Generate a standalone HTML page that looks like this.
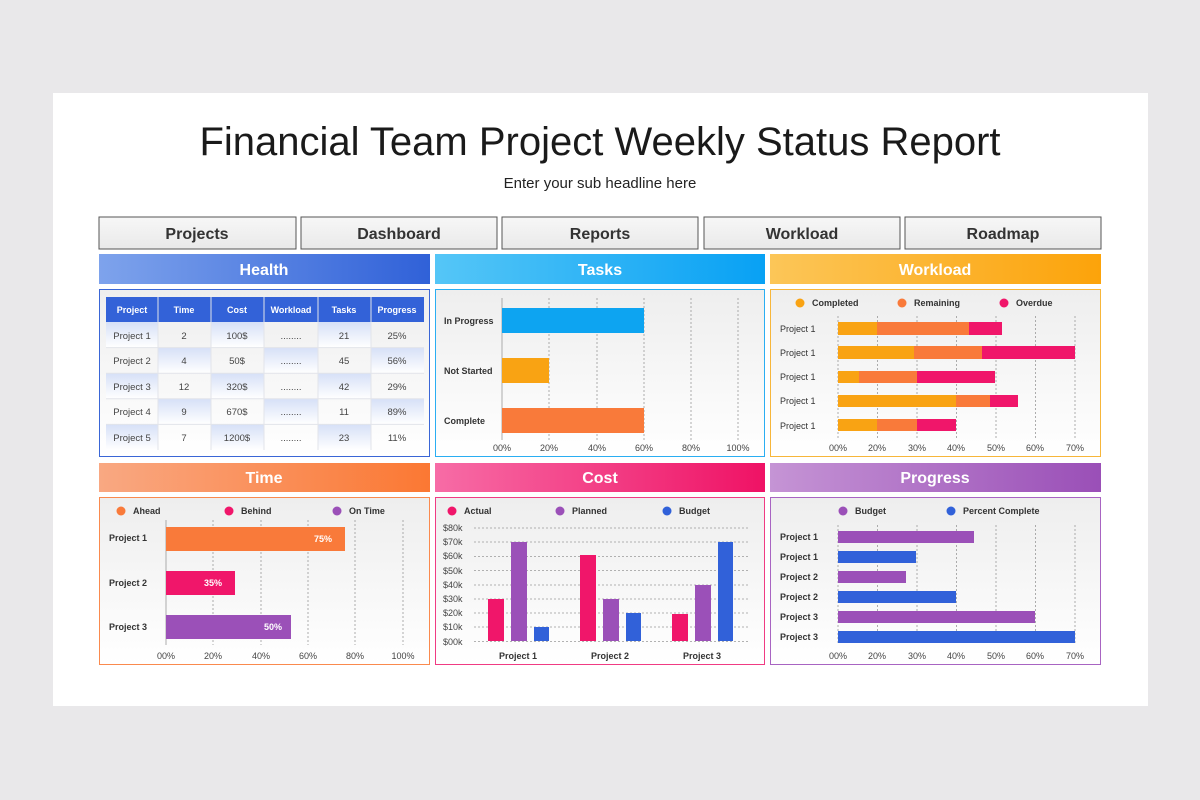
<!DOCTYPE html>
<html><head><meta charset="utf-8"><style>
html,body{margin:0;padding:0;background:#e9e8ea;}
svg{display:block;font-family:"Liberation Sans",sans-serif;}
</style></head><body>
<svg width="1200" height="800" viewBox="0 0 1200 800" xmlns="http://www.w3.org/2000/svg">
<defs>
<linearGradient id="gH" x1="0" x2="1"><stop offset="0" stop-color="#7ea3ec"/><stop offset="1" stop-color="#3061d8"/></linearGradient>
<linearGradient id="gT" x1="0" x2="1"><stop offset="0" stop-color="#55c6f7"/><stop offset="1" stop-color="#08a1f4"/></linearGradient>
<linearGradient id="gW" x1="0" x2="1"><stop offset="0" stop-color="#fcc658"/><stop offset="1" stop-color="#fca30a"/></linearGradient>
<linearGradient id="gTi" x1="0" x2="1"><stop offset="0" stop-color="#f9a882"/><stop offset="1" stop-color="#fb7833"/></linearGradient>
<linearGradient id="gC" x1="0" x2="1"><stop offset="0" stop-color="#f76ca6"/><stop offset="1" stop-color="#ef1265"/></linearGradient>
<linearGradient id="gP" x1="0" x2="1"><stop offset="0" stop-color="#c594d5"/><stop offset="1" stop-color="#9a4fb7"/></linearGradient>
<linearGradient id="gB" x1="0" y1="0" x2="0" y2="1"><stop offset="0" stop-color="#eeeeee"/><stop offset="1" stop-color="#ffffff"/></linearGradient>
<linearGradient id="gTab" x1="0" y1="0" x2="0" y2="1"><stop offset="0" stop-color="#f7f7f7"/><stop offset="1" stop-color="#e9e9e9"/></linearGradient>
<linearGradient id="gRow" x1="0" y1="0" x2="0" y2="1"><stop offset="0" stop-color="#d6e0f7"/><stop offset="1" stop-color="#ffffff"/></linearGradient>
</defs>
<rect x="53" y="93" width="1095" height="613" fill="#fff"/>
<text x="600" y="155" font-size="40" text-anchor="middle" fill="#1a1a1a">Financial Team Project Weekly Status Report</text>
<text x="600" y="188" font-size="15" text-anchor="middle" fill="#222">Enter your sub headline here</text>

<g font-size="16" font-weight="bold" fill="#333" text-anchor="middle">
<rect x="99" y="217" width="197" height="32" fill="url(#gTab)" stroke="#555" stroke-width="1"/><text x="197" y="239">Projects</text>
<rect x="301" y="217" width="196" height="32" fill="url(#gTab)" stroke="#555" stroke-width="1"/><text x="399" y="239">Dashboard</text>
<rect x="502" y="217" width="196" height="32" fill="url(#gTab)" stroke="#555" stroke-width="1"/><text x="600" y="239">Reports</text>
<rect x="704" y="217" width="196" height="32" fill="url(#gTab)" stroke="#555" stroke-width="1"/><text x="802" y="239">Workload</text>
<rect x="905" y="217" width="196" height="32" fill="url(#gTab)" stroke="#555" stroke-width="1"/><text x="1003" y="239">Roadmap</text>
</g>

<g font-size="16" font-weight="bold" fill="#fff" text-anchor="middle">
<rect x="99" y="254" width="331" height="30" fill="url(#gH)"/><text x="264" y="275">Health</text>
<rect x="435" y="254" width="330" height="30" fill="url(#gT)"/><text x="600" y="275">Tasks</text>
<rect x="770" y="254" width="331" height="30" fill="url(#gW)"/><text x="935" y="275">Workload</text>
<rect x="99" y="463" width="331" height="29" fill="url(#gTi)"/><text x="264" y="483">Time</text>
<rect x="435" y="463" width="330" height="29" fill="url(#gC)"/><text x="600" y="483">Cost</text>
<rect x="770" y="463" width="331" height="29" fill="url(#gP)"/><text x="935" y="483">Progress</text>
</g>

<rect x="99.5" y="289.5" width="330" height="167" fill="url(#gB)" stroke="#3a66d6"/>
<rect x="435.5" y="289.5" width="329" height="167" fill="url(#gB)" stroke="#2aaef2"/>
<rect x="770.5" y="289.5" width="330" height="167" fill="url(#gB)" stroke="#f7b63a"/>
<rect x="99.5" y="497.5" width="330" height="167" fill="url(#gB)" stroke="#fa8a4e"/>
<rect x="435.5" y="497.5" width="329" height="167" fill="url(#gB)" stroke="#f03b83"/>
<rect x="770.5" y="497.5" width="330" height="167" fill="url(#gB)" stroke="#a864c2"/>

<!-- Health table -->
<rect x="106" y="297" width="318" height="25" fill="#3362d8"/>
<g font-size="9" font-weight="bold" fill="#fff" text-anchor="middle">
<text x="132" y="313">Project</text><text x="184" y="313">Time</text><text x="237" y="313">Cost</text><text x="291" y="313">Workload</text><text x="344" y="313">Tasks</text><text x="397" y="313">Progress</text>
</g>
<g fill="url(#gRow)">
<rect x="106" y="322" width="52" height="25.6"/><rect x="211" y="322" width="53" height="25.6"/><rect x="318" y="322" width="53" height="25.6"/>
<rect x="158" y="347.6" width="53" height="25.6"/><rect x="264" y="347.6" width="54" height="25.6"/><rect x="371" y="347.6" width="53" height="25.6"/>
<rect x="106" y="373.2" width="52" height="25.6"/><rect x="211" y="373.2" width="53" height="25.6"/><rect x="318" y="373.2" width="53" height="25.6"/>
<rect x="158" y="398.8" width="53" height="25.6"/><rect x="264" y="398.8" width="54" height="25.6"/><rect x="371" y="398.8" width="53" height="25.6"/>
<rect x="106" y="424.4" width="52" height="25.6"/><rect x="211" y="424.4" width="53" height="25.6"/><rect x="318" y="424.4" width="53" height="25.6"/>
</g>
<g stroke="#e2e4ea" stroke-width="1">
<line x1="158" y1="297" x2="158" y2="450"/><line x1="211" y1="297" x2="211" y2="450"/><line x1="264" y1="297" x2="264" y2="450"/><line x1="318" y1="297" x2="318" y2="450"/><line x1="371" y1="297" x2="371" y2="450"/>
<line x1="106" y1="347.6" x2="424" y2="347.6"/><line x1="106" y1="373.2" x2="424" y2="373.2"/><line x1="106" y1="398.8" x2="424" y2="398.8"/><line x1="106" y1="424.4" x2="424" y2="424.4"/>
</g>
<g font-size="9.5" fill="#444" text-anchor="middle">
<text x="132" y="339">Project 1</text><text x="184" y="339">2</text><text x="237" y="339">100$</text><text x="291" y="339">........</text><text x="344" y="339">21</text><text x="397" y="339">25%</text>
<text x="132" y="364">Project 2</text><text x="184" y="364">4</text><text x="237" y="364">50$</text><text x="291" y="364">........</text><text x="344" y="364">45</text><text x="397" y="364">56%</text>
<text x="132" y="390">Project 3</text><text x="184" y="390">12</text><text x="237" y="390">320$</text><text x="291" y="390">........</text><text x="344" y="390">42</text><text x="397" y="390">29%</text>
<text x="132" y="415">Project 4</text><text x="184" y="415">9</text><text x="237" y="415">670$</text><text x="291" y="415">........</text><text x="344" y="415">11</text><text x="397" y="415">89%</text>
<text x="132" y="441">Project 5</text><text x="184" y="441">7</text><text x="237" y="441">1200$</text><text x="291" y="441">........</text><text x="344" y="441">23</text><text x="397" y="441">11%</text>
</g>

<!-- Tasks -->
<g stroke="#999" stroke-dasharray="2,2" stroke-width="0.8">
<line x1="549" y1="298" x2="549" y2="440"/><line x1="597" y1="298" x2="597" y2="440"/><line x1="644" y1="298" x2="644" y2="440"/><line x1="691" y1="298" x2="691" y2="440"/><line x1="738" y1="298" x2="738" y2="440"/>
</g>
<line x1="502" y1="298" x2="502" y2="440" stroke="#999" stroke-width="0.8"/>
<rect x="502" y="308" width="142" height="25" fill="#0da4f1"/>
<rect x="502" y="358" width="47" height="25" fill="#f9a313"/>
<rect x="502" y="408" width="142" height="25" fill="#f97a3a"/>
<g font-size="9" font-weight="bold" fill="#333"><text x="444" y="324">In Progress</text><text x="444" y="374">Not Started</text><text x="444" y="424">Complete</text></g>
<g font-size="9" fill="#444" text-anchor="middle"><text x="502" y="451">00%</text><text x="549" y="451">20%</text><text x="597" y="451">40%</text><text x="644" y="451">60%</text><text x="691" y="451">80%</text><text x="738" y="451">100%</text></g>

<!-- Workload -->
<g font-size="9" font-weight="bold" fill="#333">
<circle cx="800" cy="303" r="4.5" fill="#f9a313"/><text x="812" y="306">Completed</text>
<circle cx="902" cy="303" r="4.5" fill="#f97a3a"/><text x="914" y="306">Remaining</text>
<circle cx="1004" cy="303" r="4.5" fill="#f0166a"/><text x="1016" y="306">Overdue</text>
</g>
<g stroke="#999" stroke-dasharray="2,2" stroke-width="0.8">
<line x1="838" y1="316" x2="838" y2="440"/><line x1="877.5" y1="316" x2="877.5" y2="440"/><line x1="917" y1="316" x2="917" y2="440"/><line x1="956.5" y1="316" x2="956.5" y2="440"/><line x1="996" y1="316" x2="996" y2="440"/><line x1="1035.5" y1="316" x2="1035.5" y2="440"/><line x1="1075" y1="316" x2="1075" y2="440"/>
</g>
<g>
<rect x="838" y="322" width="39" height="13" fill="#f9a313"/><rect x="877" y="322" width="92" height="13" fill="#f97a3a"/><rect x="969" y="322" width="33" height="13" fill="#f0166a"/>
<rect x="838" y="346" width="76" height="13" fill="#f9a313"/><rect x="914" y="346" width="68" height="13" fill="#f97a3a"/><rect x="982" y="346" width="93" height="13" fill="#f0166a"/>
<rect x="838" y="371" width="21" height="12" fill="#f9a313"/><rect x="859" y="371" width="58" height="12" fill="#f97a3a"/><rect x="917" y="371" width="78" height="12" fill="#f0166a"/>
<rect x="838" y="395" width="118" height="12" fill="#f9a313"/><rect x="956" y="395" width="34" height="12" fill="#f97a3a"/><rect x="990" y="395" width="28" height="12" fill="#f0166a"/>
<rect x="838" y="419" width="39" height="12" fill="#f9a313"/><rect x="877" y="419" width="40" height="12" fill="#f97a3a"/><rect x="917" y="419" width="39" height="12" fill="#f0166a"/>
</g>
<g font-size="9" fill="#333"><text x="780" y="332">Project 1</text><text x="780" y="356">Project 1</text><text x="780" y="380">Project 1</text><text x="780" y="404">Project 1</text><text x="780" y="429">Project 1</text></g>
<g font-size="9" fill="#444" text-anchor="middle"><text x="838" y="451">00%</text><text x="877" y="451">20%</text><text x="917" y="451">30%</text><text x="956" y="451">40%</text><text x="996" y="451">50%</text><text x="1035" y="451">60%</text><text x="1075" y="451">70%</text></g>

<!-- Time -->
<g font-size="9" font-weight="bold" fill="#333">
<circle cx="121" cy="511" r="4.5" fill="#f97a3a"/><text x="133" y="514">Ahead</text>
<circle cx="229" cy="511" r="4.5" fill="#f0166a"/><text x="241" y="514">Behind</text>
<circle cx="337" cy="511" r="4.5" fill="#9b50b8"/><text x="349" y="514">On Time</text>
</g>
<g stroke="#999" stroke-dasharray="2,2" stroke-width="0.8">
<line x1="213" y1="520" x2="213" y2="645"/><line x1="261" y1="520" x2="261" y2="645"/><line x1="308" y1="520" x2="308" y2="645"/><line x1="355" y1="520" x2="355" y2="645"/><line x1="403" y1="520" x2="403" y2="645"/>
</g>
<line x1="166" y1="520" x2="166" y2="645" stroke="#999" stroke-width="0.8"/>
<rect x="166" y="527" width="179" height="24" fill="#f97a3a"/>
<rect x="166" y="571" width="69" height="24" fill="#f0166a"/>
<rect x="166" y="615" width="125" height="24" fill="#9b50b8"/>
<g font-size="9" font-weight="bold" fill="#fff" text-anchor="middle"><text x="323" y="542">75%</text><text x="213" y="586">35%</text><text x="273" y="630">50%</text></g>
<g font-size="9" font-weight="bold" fill="#333"><text x="109" y="541">Project 1</text><text x="109" y="586">Project 2</text><text x="109" y="630">Project 3</text></g>
<g font-size="9" fill="#444" text-anchor="middle"><text x="166" y="659">00%</text><text x="213" y="659">20%</text><text x="261" y="659">40%</text><text x="308" y="659">60%</text><text x="355" y="659">80%</text><text x="403" y="659">100%</text></g>

<!-- Cost -->
<g font-size="9" font-weight="bold" fill="#333">
<circle cx="452" cy="511" r="4.5" fill="#f0166a"/><text x="464" y="514">Actual</text>
<circle cx="560" cy="511" r="4.5" fill="#9b50b8"/><text x="572" y="514">Planned</text>
<circle cx="667" cy="511" r="4.5" fill="#3161d9"/><text x="679" y="514">Budget</text>
</g>
<g stroke="#999" stroke-dasharray="2,2" stroke-width="0.8">
<line x1="474" y1="528" x2="748" y2="528"/><line x1="474" y1="542" x2="748" y2="542"/><line x1="474" y1="556.5" x2="748" y2="556.5"/><line x1="474" y1="570.5" x2="748" y2="570.5"/><line x1="474" y1="585" x2="748" y2="585"/><line x1="474" y1="599" x2="748" y2="599"/><line x1="474" y1="613" x2="748" y2="613"/><line x1="474" y1="627" x2="748" y2="627"/><line x1="474" y1="641.5" x2="748" y2="641.5"/>
</g>
<g font-size="9" fill="#444"><text x="443" y="531">$80k</text><text x="443" y="545">$70k</text><text x="443" y="559">$60k</text><text x="443" y="574">$50k</text><text x="443" y="588">$40k</text><text x="443" y="602">$30k</text><text x="443" y="616">$20k</text><text x="443" y="630">$10k</text><text x="443" y="645">$00k</text></g>
<rect x="488" y="599" width="16" height="42" fill="#f0166a"/><rect x="511" y="542" width="16" height="99" fill="#9b50b8"/><rect x="534" y="627" width="15" height="14" fill="#3161d9"/>
<rect x="580" y="555" width="16" height="86" fill="#f0166a"/><rect x="603" y="599" width="16" height="42" fill="#9b50b8"/><rect x="626" y="613" width="15" height="28" fill="#3161d9"/>
<rect x="672" y="614" width="16" height="27" fill="#f0166a"/><rect x="695" y="585" width="16" height="56" fill="#9b50b8"/><rect x="718" y="542" width="15" height="99" fill="#3161d9"/>
<g font-size="9" font-weight="bold" fill="#333" text-anchor="middle"><text x="518" y="659">Project 1</text><text x="610" y="659">Project 2</text><text x="702" y="659">Project 3</text></g>

<!-- Progress -->
<g font-size="9" font-weight="bold" fill="#333">
<circle cx="843" cy="511" r="4.5" fill="#9b50b8"/><text x="855" y="514">Budget</text>
<circle cx="951" cy="511" r="4.5" fill="#3161d9"/><text x="963" y="514">Percent Complete</text>
</g>
<g stroke="#999" stroke-dasharray="2,2" stroke-width="0.8">
<line x1="838" y1="525" x2="838" y2="645"/><line x1="877.5" y1="525" x2="877.5" y2="645"/><line x1="917" y1="525" x2="917" y2="645"/><line x1="956.5" y1="525" x2="956.5" y2="645"/><line x1="996" y1="525" x2="996" y2="645"/><line x1="1035.5" y1="525" x2="1035.5" y2="645"/><line x1="1075" y1="525" x2="1075" y2="645"/>
</g>
<rect x="838" y="531" width="136" height="12" fill="#9b50b8"/>
<rect x="838" y="551" width="78" height="12" fill="#3161d9"/>
<rect x="838" y="571" width="68" height="12" fill="#9b50b8"/>
<rect x="838" y="591" width="118" height="12" fill="#3161d9"/>
<rect x="838" y="611" width="197" height="12" fill="#9b50b8"/>
<rect x="838" y="631" width="237" height="12" fill="#3161d9"/>
<g font-size="9" font-weight="bold" fill="#333"><text x="780" y="540">Project 1</text><text x="780" y="560">Project 1</text><text x="780" y="580">Project 2</text><text x="780" y="600">Project 2</text><text x="780" y="620">Project 3</text><text x="780" y="640">Project 3</text></g>
<g font-size="9" fill="#444" text-anchor="middle"><text x="838" y="659">00%</text><text x="877" y="659">20%</text><text x="917" y="659">30%</text><text x="956" y="659">40%</text><text x="996" y="659">50%</text><text x="1035" y="659">60%</text><text x="1075" y="659">70%</text></g>
</svg>
</body></html>
